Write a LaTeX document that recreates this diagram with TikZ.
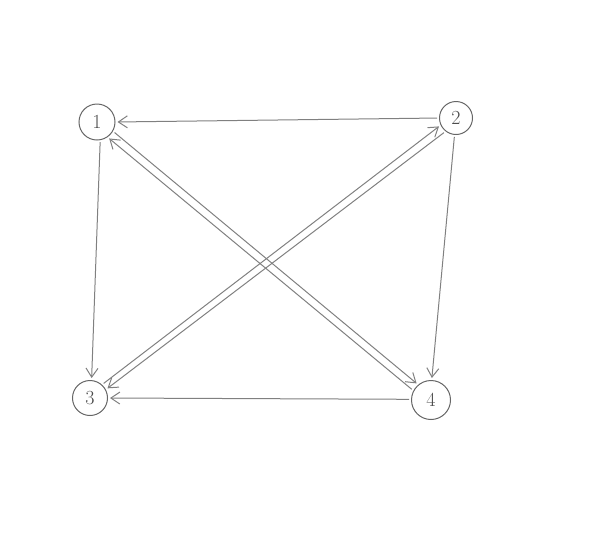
\documentclass[tikz,border=0pt]{standalone}
\usetikzlibrary{arrows.meta,calc}
\begin{document}
\begin{tikzpicture}[x=1pt,y=-1pt,
  vtx/.style={circle,draw=black!60,line width=1pt,minimum size=36pt,inner sep=0pt,font=\fontsize{20}{20}\selectfont,text=black!70},
  edge/.style={draw=black!50,line width=1pt,-{Straight Barb[length=9pt,width=12pt]},shorten >=2pt,shorten <=2pt}]
\useasboundingbox (0,0) rectangle (597,542);
\node[vtx] (n1) at (97,122) {1};
\node[vtx,minimum size=33pt] (n2) at (456,118) {2};
\node[vtx,minimum size=35pt] (n3) at (90,398) {3};
\node[vtx,minimum size=39pt] (n4) at (431,400) {4};
% sides
\draw[edge] (n2.180) -- (n1.0);
\draw[edge] (n1.-80) -- (n3.85);
\draw[edge] (n2.-95) -- (n4.88);
\draw[edge] (n4.178) -- (n3.0);
% diagonals
\draw[edge] (n1.-30) -- (n4.130);
\draw[edge] (n4.152) -- (n1.-55);
\draw[edge] (n2.-128) -- (n3.28);
\draw[edge] (n3.48) -- (n2.-155);
\end{tikzpicture}
\end{document}
